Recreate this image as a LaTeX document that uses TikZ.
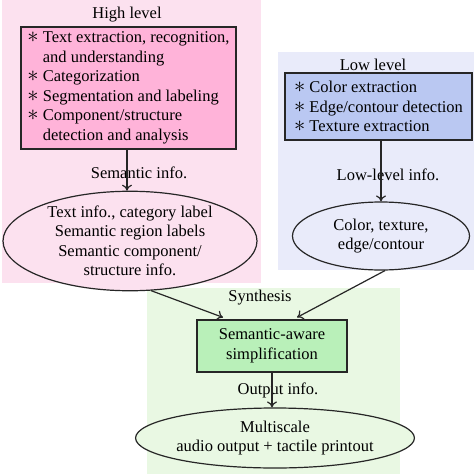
\documentclass[tikz,border=0pt]{standalone}
\usepackage{fontspec}
\usepackage{graphicx}
\setmainfont{Liberation Serif}
\usetikzlibrary{shapes.geometric,arrows.meta}
\definecolor{pinkbg}{HTML}{FCE1EF}
\definecolor{pinkbox}{HTML}{FFB3D9}
\definecolor{bluebg}{HTML}{E9EBFA}
\definecolor{bluebox}{HTML}{BAC8F2}
\definecolor{greenbg}{HTML}{E9F8E3}
\definecolor{greenbox}{HTML}{B9F0B9}
\tikzset{
  lbl/.style={inner sep=0pt, font=\fontsize{16.5}{19.5}\selectfont},
  listbox/.style={draw=black!85, line width=1.2pt, align=left, inner sep=5pt, font=\fontsize{16.5}{19.5}\selectfont},
  ell/.style={ellipse, draw=black!85, line width=1.2pt, inner sep=0pt, align=center, font=\fontsize{16.5}{19.5}\selectfont},
  conn/.style={line width=1.2pt, draw=black!85, -{To[length=6pt,width=10pt]}},
}
\newcommand{\bul}{\scalebox{1.3}{$\ast$}\ }
\newcommand{\hang}{\hphantom{\scalebox{1.3}{$\ast$}\ }}
\begin{document}
\begin{tikzpicture}[x=1pt,y=-1pt]
\useasboundingbox (0,0) rectangle (474,474);
\fill[white] (0,0) rectangle (474,474);
% backgrounds
\fill[pinkbg] (2,0) rectangle (261,283);
\fill[bluebg] (278,52) rectangle (474,270);
\fill[greenbg] (147,288) rectangle (400,474);
% high level
\node[lbl] (hl) at (127,15) {High level};
\node[listbox, fill=pinkbox, minimum width=215pt, minimum height=120pt] (pinkbox) at (128.5,88)
  {\bul Text extraction, recognition,\\\hang and understanding\\\bul Categorization\\\bul Segmentation and labeling\\\bul Component/structure\\\hang detection and analysis};
\node[ell, fill=pinkbg, minimum width=254pt, minimum height=98pt] (pinkell) at (130,241)
  {Text info., category label\\Semantic region labels\\Semantic component/\\structure info.};
\node[lbl] (seminfo) at (139,173) {Semantic info.};
\draw[conn] ([xshift=-1.5pt]pinkbox.south) -- ([xshift=-1.5pt]pinkbox.south |- pinkell.north);
% low level
\node[lbl] (ll) at (373,65) {Low level};
\node[listbox, fill=bluebox, minimum width=187pt, minimum height=67pt] (bluebox) at (378.5,106.5)
  {\bul Color extraction\\\bul Edge/contour detection\\\bul Texture extraction};
\node[ell, fill=bluebg, minimum width=177pt, minimum height=68pt] (bluell) at (381,236)
  {Color, texture,\\edge/contour};
\node[lbl] (llinfo) at (388,175) {Low-level info.};
\draw[conn] (bluell.north |- bluebox.south) -- (bluell.north);
% synthesis
\node[lbl] (syn) at (260,298) {Synthesis};
\node[listbox, align=center, fill=greenbox, minimum width=150pt, minimum height=52pt] (greenbox) at (272,346)
  {Semantic-aware\\simplification};
\node[ell, fill=greenbg, minimum width=246pt, minimum height=60pt] (greenell) at (275,438)
  {Multiscale\\audio output + tactile printout};
\node[lbl] (outinfo) at (278,390) {Output info.};
\draw[conn] (greenbox.south) -- (greenbox.south |- greenell.north);
\draw[conn] (pinkell.-67) -- ([xshift=-49pt,yshift=2pt]greenbox.north);
\draw[conn] ([xshift=4pt]bluell.south) -- ([xshift=25pt,yshift=2pt]greenbox.north);
\end{tikzpicture}
\end{document}
